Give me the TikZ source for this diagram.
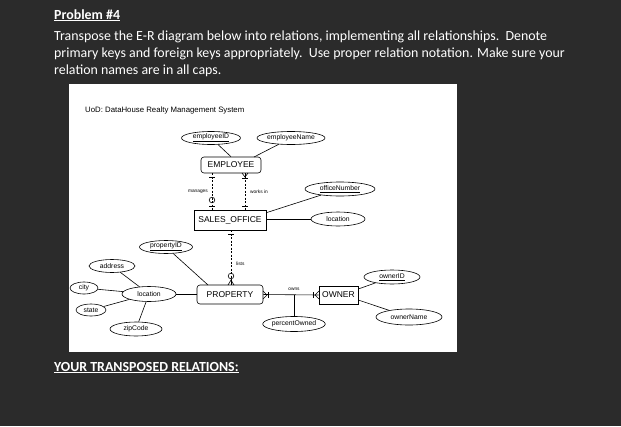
\documentclass[tikz,border=0pt]{standalone}
\usepackage{fontspec}
\setmainfont{Carlito}
\newfontfamily\arial{Liberation Sans}
\usetikzlibrary{shapes.geometric}
\definecolor{bg}{HTML}{2B2B2B}
\begin{document}
\begin{tikzpicture}[x=1pt,y=-1pt,
  attr/.style={draw,ellipse,inner sep=0pt,font=\arial\fontsize{6.8}{8}\selectfont,line width=0.6pt},
  ent/.style={draw,rectangle,inner sep=0pt,font=\arial\fontsize{8.5}{10}\selectfont,line width=0.6pt},
  lab/.style={font=\arial\fontsize{4.8}{5}\selectfont,inner sep=0pt},
  ln/.style={line width=0.6pt},
  rel/.style={line width=0.6pt,dashed,dash pattern=on 2pt off 1.5pt},
  txt/.style={text=white,anchor=base west,inner sep=0pt,font=\fontsize{13.9}{15}\selectfont}]
\fill[bg] (0,0) rectangle (621,426);
\useasboundingbox (0,0) rectangle (621,426);
\fill[white] (69,84) rectangle (457,352);
\node[txt,font=\bfseries\fontsize{13.9}{15}\selectfont] (t0) at (54,19) {\underline{Problem \#4}};
\node[txt] (t1) at (54,40) {Transpose the E-R diagram below into relations, implementing all relationships.\ \ Denote};
\node[txt] (t2) at (54,57) {primary keys and foreign keys appropriately.\ \ Use proper relation notation. Make sure your};
\node[txt] (t3) at (54,74) {relation names are in all caps.};
\node[txt,font=\bfseries\fontsize{13.9}{15}\selectfont] (t4) at (54,371) {\underline{YOUR TRANSPOSED RELATIONS:}};
\node[anchor=west,inner sep=0pt,font=\arial\fontsize{7.8}{8}\selectfont] (uod) at (85,110) {UoD: DataHouse Realty Management System};
% entities
\node[ent,rounded corners=3pt,minimum width=60pt,minimum height=16pt] (emp) at (231,165) {EMPLOYEE};
\node[ent,minimum width=72pt,minimum height=20pt] (so) at (230,220) {SALES\_OFFICE};
\node[ent,rounded corners=3pt,minimum width=66pt,minimum height=19pt] (prop) at (230,294.5) {PROPERTY};
\node[ent,minimum width=39pt,minimum height=18pt] (own) at (338.5,295) {OWNER};
% attributes
\node[attr,minimum width=59pt,minimum height=13pt] (eid) at (211,138) {\underline{employeeID}};
\node[attr,minimum width=68pt,minimum height=13pt] (ename) at (291,138) {employeeName};
\node[attr,minimum width=70pt,minimum height=14pt] (onum) at (340,189) {\underline{officeNumber}};
\node[attr,minimum width=54pt,minimum height=14pt] (oloc) at (338,219) {location};
\node[attr,minimum width=53pt,minimum height=13pt] (pid) at (166,247) {\underline{propertyID}};
\node[attr,minimum width=46pt,minimum height=13pt] (addr) at (112,266) {address};
\node[attr,minimum width=28pt,minimum height=12pt] (city) at (84,288) {city};
\node[attr,minimum width=30pt,minimum height=12pt] (state) at (91,310) {state};
\node[attr,minimum width=54pt,minimum height=15pt] (ploc) at (149,294) {location};
\node[attr,minimum width=52pt,minimum height=14pt] (zip) at (136,329) {zipCode};
\node[attr,minimum width=56pt,minimum height=14pt] (oid) at (392,277) {\underline{ownerID}};
\node[attr,minimum width=66pt,minimum height=16pt] (oname) at (409,317) {ownerName};
\node[attr,minimum width=62pt,minimum height=15pt] (pct) at (294,324) {percentOwned};
% attribute lines
\draw[ln] (eid) -- (emp.north -| 231,0);
\draw[ln] (ename) -- (254,157);
\draw[ln] (so.north east) ++(0,3) coordinate (soa) -- (onum);
\draw[ln] (so.east |- oloc) -- (oloc);
\draw[ln] (pid) -- (208,285);
\draw[ln] (ploc) -- (prop.west |- ploc);
\draw[ln] (ploc) -- (addr);
\draw[ln] (ploc) -- (city);
\draw[ln] (ploc) -- (state);
\draw[ln] (ploc) -- (zip);
\draw[ln] (own.east) ++(0,-6) -- (oid);
\draw[ln] (own.east) ++(0,5) -- (oname);
% relationships
\draw[rel] (212,173) -- (212,210);
\draw[rel] (245,173) -- (245,210);
\draw[rel] (231,230) -- (231,285);
\node[lab,anchor=east] (lm) at (208,192) {manages};
\node[lab,anchor=west] (lw) at (250,192) {works in};
\node[lab,anchor=west] (ll) at (236,264) {lists};
\node[lab] (lo) at (294,289) {owns};
\coordinate (j) at (294,295);
\draw[ln] (prop.east) -- (own.west);
\draw[ln] (j) -- (pct);
% crow's feet notation
\begin{scope}[line width=0.6pt]
\draw (209,177) -- (215,177);
\draw (212,200) circle (2.8);
\draw (209,206) -- (215,206);
\draw (242,178) -- (248,178);
\draw (242,173) -- (245,177) -- (248,173); \draw (245,173)--(245,177);
\draw (242,206) -- (248,206);
\draw (228,234) -- (234,234);
\draw (231,276) circle (2.8);
\draw (228,285) -- (231,280) -- (234,285); \draw (231,280)--(231,285);
\draw (268,292) -- (268,298);
\draw (263,291) -- (267,295) -- (263,299);
\draw (319,291) -- (315,295) -- (319,299);
\draw (313,292) -- (313,298);
\end{scope}
\end{tikzpicture}
\end{document}
